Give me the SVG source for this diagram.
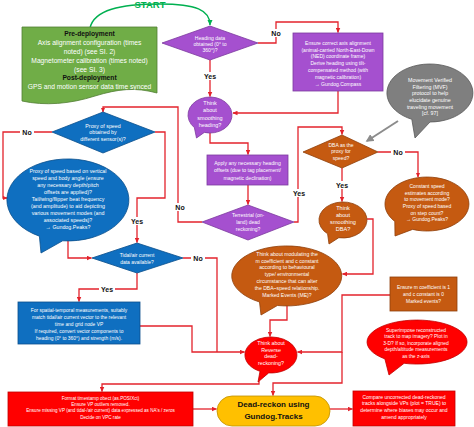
<svg xmlns="http://www.w3.org/2000/svg" width="474" height="427" viewBox="0 0 474 427">
<style>
text{font-family:"Liberation Sans",Arial,sans-serif;text-anchor:middle;fill:#fff}
.c{fill:none;stroke:#E3232C;stroke-width:1.3}
.lb{font-weight:bold;fill:#111;font-size:7px}
.lbg{fill:#fff}
.pu{fill:#A550CF;stroke:#7C3A9E;stroke-width:0.8}
.bl{fill:#0F6FC0;stroke:#0A4F8C;stroke-width:0.8}
.or{fill:#C55A11;stroke:#8F3F0A;stroke-width:0.8}
.rd{fill:#FF0000;stroke:#C00000;stroke-width:0.8}
.gr{fill:#7F7F7F;stroke:#595959;stroke-width:0.8}
.dk{fill:#111;font-weight:bold}
</style>
<defs>
<marker id="ar" viewBox="0 0 10 10" refX="9" refY="5" markerWidth="5" markerHeight="5" orient="auto" markerUnits="userSpaceOnUse"><path d="M0,0.5 L10,5 L0,9.5 z" fill="#E3232C"/></marker>
<marker id="ag" viewBox="0 0 10 10" refX="9" refY="5" markerWidth="6" markerHeight="6" orient="auto" markerUnits="userSpaceOnUse"><path d="M0,0.5 L10,5 L0,9.5 z" fill="#00B050"/></marker>
<marker id="ay" viewBox="0 0 10 10" refX="8" refY="5" markerWidth="8" markerHeight="8" orient="auto" markerUnits="userSpaceOnUse"><path d="M0,0 L10,5 L0,10 z" fill="#8C8C8C"/></marker>
</defs>

<text x="150" y="8" style="fill:#00B050;font-weight:bold;font-size:9.5px">START</text>

<g id="connectors">
<path d="M90,28 C94,10 120,4 160,4 C196,4 210,10 210,25" fill="none" stroke="#00B050" stroke-width="1.4" marker-end="url(#ag)"/>
<path class="c" d="M258,43 H276 V22 H338 V32.5" marker-end="url(#ar)"/>
<path class="c" d="M210,60 V96.5" marker-end="url(#ar)"/>
<path class="c" d="M338,91 V113 H233" marker-end="url(#ar)"/>
<path class="c" d="M210,133 V143 H248 V154.5" marker-end="url(#ar)"/>
<path class="c" d="M248,185 V204.5" marker-end="url(#ar)"/>
<path class="c" d="M202,222 H178 V107 H103 V112" marker-end="url(#ar)"/>
<path class="c" d="M294,222 H298 V127 H342 V134.5" marker-end="url(#ar)"/>
<path class="c" d="M52,132 H3 V198 H7" marker-end="url(#ar)"/>
<path class="c" d="M155,132 H165 V198 H137 V242.5" marker-end="url(#ar)"/>
<path class="c" d="M68,241 V258 H91.5" marker-end="url(#ar)"/>
<path class="c" d="M137,273 V289 H79 V301.5" marker-end="url(#ar)"/>
<path class="c" d="M183,258 H217 V352"/>
<path class="c" d="M140,326 H192 V352 H244.5" marker-end="url(#ar)"/>
<path class="c" d="M378,152 H418 V177" marker-end="url(#ar)"/>
<path class="c" d="M342,168 V201.5" marker-end="url(#ar)"/>
<path class="c" d="M367,219 H373 V274 H342.5" marker-end="url(#ar)"/>
<path class="c" d="M287,306 V320 H270 V336.5" marker-end="url(#ar)"/>
<path class="c" d="M390,295 H342 V352 H297.5" marker-end="url(#ar)"/>
<path class="c" d="M342,352 V383 H273 V395.5" marker-end="url(#ar)"/>
<path class="c" d="M259,381 V384 H102 V391.5" marker-end="url(#ar)"/>
<path class="c" d="M193,409 H216.5" marker-end="url(#ar)"/>
<path class="c" d="M330,409 H352.5" marker-end="url(#ar)"/>
<path d="M398,121 L367,141" fill="none" stroke="#8C8C8C" stroke-width="2" marker-end="url(#ay)"/>
<g>
<rect class="lbg" x="270" y="29" width="12" height="8"/><text class="lb" x="276" y="35.5">No</text>
<rect class="lbg" x="203" y="72" width="14" height="8"/><text class="lb" x="210" y="78.5">Yes</text>
<rect class="lbg" x="174" y="203" width="12" height="8"/><text class="lb" x="180" y="209.5">No</text>
<rect class="lbg" x="292" y="189" width="14" height="8"/><text class="lb" x="299" y="195.5">Yes</text>
<rect class="lbg" x="20" y="128" width="14" height="8"/><text class="lb" x="27" y="134.5">No</text>
<rect class="lbg" x="130" y="217" width="14" height="8"/><text class="lb" x="137" y="223.5">Yes</text>
<rect class="lbg" x="99" y="285" width="16" height="8"/><text class="lb" x="107" y="291.5">Yes</text>
<rect class="lbg" x="191" y="254" width="14" height="8"/><text class="lb" x="198" y="260.5">No</text>
<rect class="lbg" x="391" y="148" width="14" height="8"/><text class="lb" x="398" y="154.5">No</text>
<rect class="lbg" x="335" y="181" width="14" height="8"/><text class="lb" x="342" y="187.5">Yes</text>
</g>
</g>

<g id="n-setup">
<path d="M22,27 H157 V93 C135,87 118,89 95,96 C70,104 45,106 22,101 Z" fill="#70AD47" stroke="#507E32" stroke-width="0.8"/>
<g style="font-size:6.7px">
<text class="dk" x="89.5" y="36.3">Pre-deployment</text>
<text x="89.5" y="45.1">Axis alignment configuration (times</text>
<text x="89.5" y="53.9">noted) (see SI. 2)</text>
<text x="89.5" y="62.7">Magnetometer calibration (times noted)</text>
<text x="89.5" y="71.5">(see SI. 3)</text>
<text class="dk" x="89.5" y="80.3">Post-deployment</text>
<text x="89.5" y="89.1">GPS and motion sensor data time synced</text>
</g>
</g>

<g id="n-heading">
<polygon class="pu" points="210,26 258,43 210,60 162,43"/>
<g style="font-size:5.1px">
<text x="210" y="39.8">Heading data</text>
<text x="210" y="45.8">obtained (0° to</text>
<text x="210" y="51.8">360°)?</text>
</g>
</g>

<g id="n-axis">
<rect class="pu" x="293" y="33" width="90" height="58"/>
<g style="font-size:5px">
<text x="338" y="44.8">Ensure correct axis alignment</text>
<text x="338" y="51.6">(animal-carried North-East-Down</text>
<text x="338" y="58.4">(NED) coordinate frame)</text>
<text x="338" y="65.2">Derive heading using tilt-</text>
<text x="338" y="72">compensated method (with</text>
<text x="338" y="78.8">magnetic calibration)</text>
<text x="338" y="85.6">→ Gundog.Compass</text>
</g>
</g>

<g id="n-smooth-heading">
<path class="pu" d="M204.3,132.4 A22,18 0 1 0 194.4,127.7 L196.5,138 Z"/>
<g style="font-size:5.5px">
<text x="210" y="104.9">Think</text>
<text x="210" y="112.2">about</text>
<text x="210" y="119.5">smoothing</text>
<text x="210" y="126.8">heading?</text>
</g>
</g>

<g id="n-offsets">
<rect class="pu" x="207" y="155" width="81" height="30"/>
<g style="font-size:5.1px">
<text x="247.5" y="164.8">Apply any necessary heading</text>
<text x="247.5" y="172.3">offsets (due to tag placement/</text>
<text x="247.5" y="179.8">magnetic declination)</text>
</g>
</g>

<g id="n-terrestrial">
<polygon class="pu" points="248,205 294,222 248,240 202,222"/>
<g style="font-size:5px">
<text x="248" y="216.8">Terrestrial (on-</text>
<text x="248" y="223.8">land) dead</text>
<text x="248" y="230.8">reckoning?</text>
</g>
</g>

<g id="n-mvf">
<path class="gr" d="M430,122 A43,29 0 1 0 411.8,119.3 L415,138 Z"/>
<g style="font-size:5.3px">
<text x="430" y="81.9">Movement Verified</text>
<text x="430" y="88.6">Filtering (MVF)</text>
<text x="430" y="95.3">protocol to help</text>
<text x="430" y="102">elucidate genuine</text>
<text x="430" y="108.7">traveling movement</text>
<text x="430" y="115.4">[cf. 97]</text>
</g>
</g>

<g id="n-proxy">
<polygon class="bl" points="103,112 155,132 103,153 52,132"/>
<g style="font-size:5.3px">
<text x="103" y="127.9">Proxy of speed</text>
<text x="103" y="134.4">obtained by</text>
<text x="103" y="140.9">different sensor(s)?</text>
</g>
</g>

<g id="n-vertical-speed">
<path class="bl" d="M62.7,240.8 A61,41 0 1 0 39.4,236.2 L41,253 Z"/>
<g style="font-size:5.3px">
<text x="68" y="173.3">Proxy of speed based on vertical</text>
<text x="68" y="180.3">speed and body angle (ensure</text>
<text x="68" y="187.3">any necessary depth/pitch</text>
<text x="68" y="194.3">offsets are applied)?</text>
<text x="68" y="201.3">Tail/wing/flipper beat frequency</text>
<text x="68" y="208.3">(and amplitude) to aid depicting</text>
<text x="68" y="215.3">various movement modes (and</text>
<text x="68" y="222.3">associated speeds)?</text>
<text x="68" y="229.3">→ Gundog.Peaks?</text>
</g>
</g>

<g id="n-tidal">
<polygon class="bl" points="137,243 183,258 137,273 92,258"/>
<g style="font-size:5px">
<text x="137" y="256.8">Tidal/air current</text>
<text x="137" y="263.8">data available?</text>
</g>
</g>

<g id="n-vector">
<rect class="bl" x="18" y="302" width="122" height="42"/>
<g style="font-size:4.9px">
<text x="79" y="312.2">For spatial-temporal measurements, suitably</text>
<text x="79" y="319.2">match tidal/air current vector to the relevant</text>
<text x="79" y="326.2">time and grid node VP</text>
<text x="79" y="333.2">If required, convert vector components to</text>
<text x="79" y="340.2">heading (0° to 360°) and strength (m/s).</text>
</g>
</g>

<g id="n-dba">
<polygon class="or" points="342,135 378,152 342,168 303,152"/>
<g style="font-size:5px">
<text x="341" y="146.8">DBA as the</text>
<text x="341" y="153.3">proxy for</text>
<text x="341" y="159.8">speed?</text>
</g>
</g>

<g id="n-constant">
<path class="or" d="M412.6,229.4 A42,27 0 1 0 394.8,221.4 L395,236 Z"/>
<g style="font-size:5px">
<text x="427" y="187.8">Constant speed</text>
<text x="427" y="194.5">estimates according</text>
<text x="427" y="201.2">to movement mode?</text>
<text x="427" y="207.9">Proxy of speed based</text>
<text x="427" y="214.6">on step count?</text>
<text x="427" y="221.3">→ Gundog.Peaks?</text>
</g>
</g>

<g id="n-smooth-dba">
<path class="or" d="M338.8,237.7 A24,18 0 1 0 327.6,233.8 L329,244 Z"/>
<g style="font-size:5.6px">
<text x="343" y="210">Think</text>
<text x="343" y="217">about</text>
<text x="343" y="224">smoothing</text>
<text x="343" y="231">DBA?</text>
</g>
</g>

<g id="n-modulate">
<path class="or" d="M277.4,305.5 A55,30 0 1 0 259.5,302 L261,315 Z"/>
<g style="font-size:5.1px">
<text x="287" y="255.8">Think about modulating the</text>
<text x="287" y="262.6">m coefficient and c constant</text>
<text x="287" y="269.4">according to behavioural</text>
<text x="287" y="276.2">type/ environmental</text>
<text x="287" y="283">circumstance that can alter</text>
<text x="287" y="289.8">the DBA~speed relationship.</text>
<text x="287" y="296.6">Marked Events (ME)?</text>
</g>
</g>

<g id="n-ensure-m">
<rect class="or" x="390" y="277" width="67" height="34"/>
<g style="font-size:4.9px">
<text x="423.5" y="288.7">Ensure m coefficient is 1</text>
<text x="423.5" y="295.7">and c constant is 0</text>
<text x="423.5" y="302.7">Marked events?</text>
</g>
</g>

<g id="n-reverse">
<path class="rd" d="M268.7,372.9 A26,18 0 1 0 260,371.3 L258,382 Z"/>
<g style="font-size:5.3px">
<text x="271" y="344.9">Think about</text>
<text x="271" y="351.5">Reverse</text>
<text x="271" y="358.1">dead-</text>
<text x="271" y="364.7">reckoning?</text>
</g>
</g>

<g id="n-superimpose">
<path class="rd" d="M404.1,363.3 A50,22 0 1 0 384.9,358.9 L389,375 Z"/>
<g style="font-size:4.9px">
<text x="416" y="331.7">Superimpose reconstructed</text>
<text x="416" y="338.2">track to map imagery? Plot in</text>
<text x="416" y="344.7">3-D? If so, incorporate aligned</text>
<text x="416" y="351.2">depth/altitude measurements</text>
<text x="416" y="357.7">as the z-axis</text>
</g>
</g>

<g id="n-format">
<rect class="rd" x="8" y="392" width="185" height="34"/>
<g style="font-size:4.6px">
<text x="100.5" y="399.6">Format timestamp obect (as.POSIXct)</text>
<text x="100.5" y="405.9">Ensure VP outliers removed.</text>
<text x="100.5" y="412.2">Ensure missing VP (and tidal-/air current) data expressed as NA's / zeros</text>
<text x="100.5" y="418.6">Decide on VPC rate</text>
</g>
</g>

<g id="n-deadreckon">
<rect x="217" y="396" width="113" height="30" rx="15" ry="15" fill="#FFC000" stroke="#BF9000" stroke-width="0.8"/>
<text class="dk" x="273.5" y="407.3" style="font-size:8px">Dead-reckon using</text>
<text class="dk" x="273.5" y="419.3" style="font-size:8px">Gundog.Tracks</text>
</g>

<g id="n-compare">
<rect class="rd" x="353" y="391" width="102" height="35"/>
<g style="font-size:5px">
<text x="404" y="398.7">Compare uncorrected dead-reckoned</text>
<text x="404" y="405.4">tracks alongside VPs (plot = TRUE) to</text>
<text x="404" y="412.1">determine where biases may occur and</text>
<text x="404" y="418.8">amend appropriately</text>
</g>
</g>
</svg>
